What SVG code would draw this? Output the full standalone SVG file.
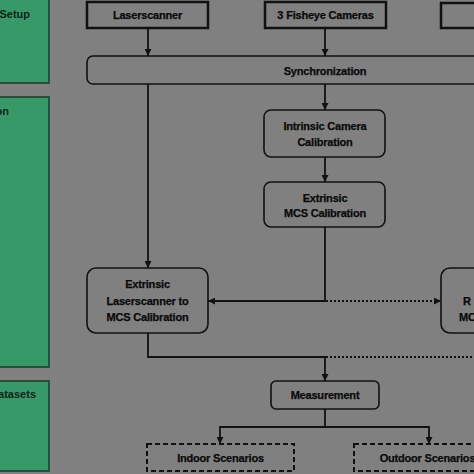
<svg xmlns="http://www.w3.org/2000/svg" width="474" height="474" viewBox="0 0 474 474">
<defs>
<marker id="ah" viewBox="0 0 10 10" refX="10" refY="5" markerWidth="7" markerHeight="7" markerUnits="userSpaceOnUse" orient="auto">
<path d="M0,0 L10,5 L0,10 z" fill="#111"/>
</marker>
<style>
.bg{fill:#808080}
.panel{fill:#379968;stroke:#1c3a2a;stroke-width:1.5}
.ptxt{font-family:"Liberation Sans",Arial,sans-serif;font-weight:bold;font-size:11px;fill:#0c2417}
.src{fill:#808080;stroke:#111;stroke-width:2.5}
.rbox{fill:#808080;stroke:#111;stroke-width:1.6}
.dbox{fill:#808080;stroke:#111;stroke-width:2;stroke-dasharray:5,3}
.t{font-family:"Liberation Sans",Arial,sans-serif;font-weight:bold;font-size:11px;fill:#0a0a0a;text-anchor:middle;letter-spacing:-0.2px;stroke:#0a0a0a;stroke-width:0.25}
.c{fill:none;stroke:#111;stroke-width:1.8}
.dot{fill:none;stroke:#111;stroke-width:2;stroke-dasharray:2,2}
</style>
</defs>
<rect class="bg" x="0" y="0" width="474" height="474"/>

<g id="panel-setup"><rect class="panel" x="-3" y="-3" width="52" height="86"/><text class="ptxt" x="30" y="18" text-anchor="end">Setup</text></g>
<g id="panel-calibration"><rect class="panel" x="-3" y="97" width="52" height="270"/><text class="ptxt" x="9" y="115" text-anchor="end">on</text></g>
<g id="panel-datasets"><rect class="panel" x="-3" y="381" width="52" height="90"/><text class="ptxt" x="36" y="398" text-anchor="end">atasets</text></g>

<g id="laserscanner"><rect class="src" x="87" y="2" width="121" height="26"/><text class="t" x="147.5" y="19">Laserscanner</text></g>
<g id="fisheye"><rect class="src" x="265" y="2" width="121" height="26"/><text class="t" x="325.5" y="19">3 Fisheye Cameras</text></g>
<g id="third-source"><rect class="src" x="441" y="3" width="121" height="25"/></g>

<g id="sync"><rect class="rbox" x="87" y="56" width="410" height="28" rx="6"/><text class="t" x="325" y="75">Synchronization</text></g>

<g id="intrinsic"><rect class="rbox" x="264" y="110" width="121" height="47" rx="7"/><text class="t" x="325" y="130">Intrinsic Camera</text><text class="t" x="325" y="146">Calibration</text></g>
<g id="extrinsic-mcs"><rect class="rbox" x="264" y="182" width="121" height="45" rx="7"/><text class="t" x="325" y="202">Extrinsic</text><text class="t" x="325" y="217">MCS Calibration</text></g>

<g id="extrinsic-laser"><rect class="rbox" x="87" y="268" width="121" height="65" rx="9"/><text class="t" x="147.5" y="288">Extrinsic</text><text class="t" x="147.5" y="304.5">Laserscanner to</text><text class="t" x="147.5" y="321">MCS Calibration</text></g>
<g id="right-calib"><rect class="rbox" x="441" y="268" width="121" height="65" rx="9"/><text class="t" x="463" y="304.5" style="text-anchor:start">R</text><text class="t" x="459" y="321" style="text-anchor:start">MC</text></g>

<g id="measurement"><rect class="rbox" x="271" y="381" width="108" height="28" rx="5"/><text class="t" x="325" y="399">Measurement</text></g>

<g id="indoor"><rect class="dbox" x="147" y="444" width="147" height="27"/><text class="t" x="220.5" y="462">Indoor Scenarios</text></g>
<g id="outdoor"><rect class="dbox" x="354" y="444" width="147" height="27"/><text class="t" x="427.5" y="462">Outdoor Scenarios</text></g>

<g id="connectors">
<path class="c" d="M148,28 V56" marker-end="url(#ah)"/>
<path class="c" d="M325,28 V56" marker-end="url(#ah)"/>
<path class="c" d="M325,84 V110" marker-end="url(#ah)"/>
<path class="c" d="M325,157 V182" marker-end="url(#ah)"/>
<path class="c" d="M148,84 V268" marker-end="url(#ah)"/>
<path class="c" d="M325,227 V301 H208" marker-end="url(#ah)"/>
<path class="dot" d="M326,301 H441" marker-end="url(#ah)"/>
<path class="c" d="M148,333 V357 H325 V381" marker-end="url(#ah)"/>
<path class="dot" d="M326,357 H474"/>
<path class="c" d="M325,409 V427"/>
<path class="c" d="M220,443 V427 H429 V443"/>
<path class="c" d="M220,436 V444" marker-end="url(#ah)"/>
<path class="c" d="M429,436 V444" marker-end="url(#ah)"/>
</g>
</svg>
